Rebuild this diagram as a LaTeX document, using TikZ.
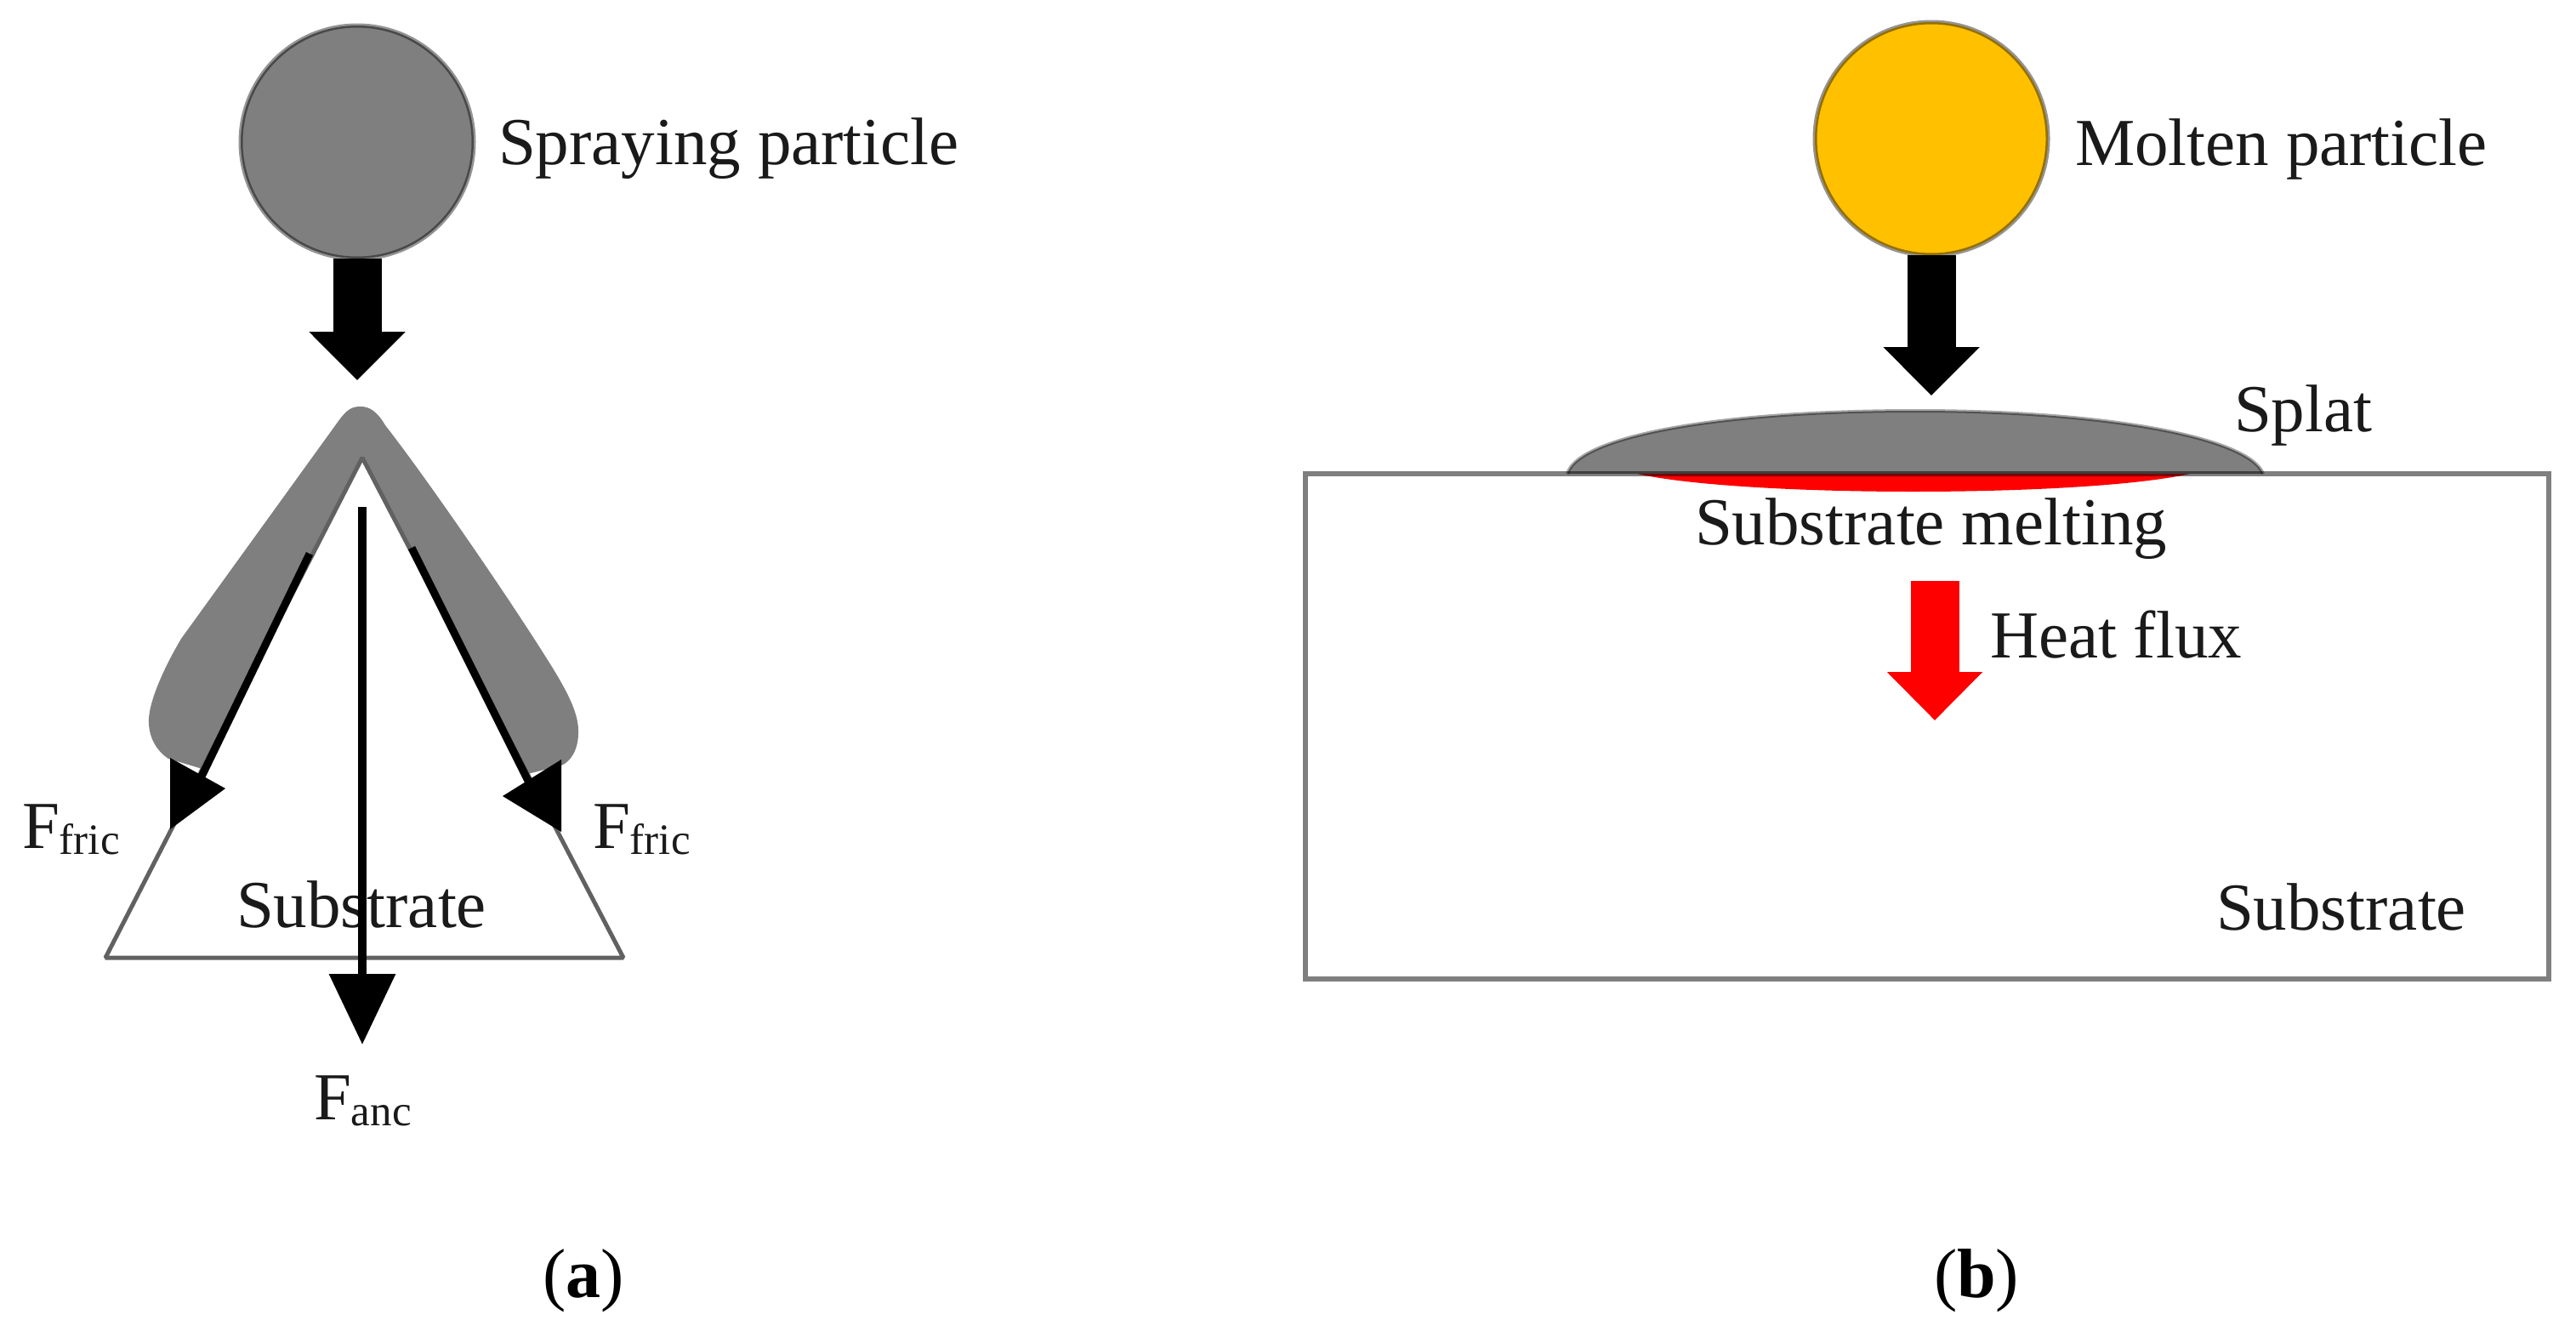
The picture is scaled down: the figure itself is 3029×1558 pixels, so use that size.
\documentclass[tikz,border=0pt]{standalone}
\usepackage{fontspec}
\setmainfont{Liberation Serif}
\usetikzlibrary{arrows.meta}
\definecolor{partgray}{HTML}{7F7F7F}
\definecolor{gold}{HTML}{FFC000}
\definecolor{txt}{HTML}{1A1A1A}
\tikzset{
  lab/.style={anchor=base west,inner sep=0pt,outer sep=0pt,text=txt,font=\fontsize{79}{95}\selectfont},
  figcap/.style={anchor=base west,inner sep=0pt,outer sep=0pt,text=black,font=\fontsize{82}{98}\selectfont},
  particle/.style={circle,inner sep=0pt,outer sep=0pt,minimum size=274pt},
  rim/.style={draw=black,draw opacity=.42,line width=5pt},
  blockarrow/.style={line width=57pt,-{Triangle[length=57pt,width=110pt]}},
  heatarrow/.style={draw=red,color=red,line width=57pt,-{Triangle[length=57pt,width=109pt]}},
  thinarrow/.style={line width=10pt,-{Triangle[length=83pt,width=76pt]}},
  fricshaft/.style={line width=9pt,line cap=butt},
}
\newcommand{\subtxt}[1]{\raisebox{-7pt}{\fontsize{51}{60}\selectfont #1}}
\begin{document}
\begin{tikzpicture}[x=1pt,y=-1pt]
\useasboundingbox (0,0) rectangle (3029,1558);
\fill[white] (0,0) rectangle (3029,1558);

% ---------- (a) ----------
\coordinate (apex) at (426,538);
\coordinate (tl) at (124,1126);
\coordinate (tr) at (733,1126);
% deformed particle
\fill[partgray] (426,542) -- (238,904) -- (198,892)
  .. controls (183,882) and (174,865) .. (175,845)
  .. controls (176,825) and (190,790) .. (213,751)
  -- (398,495)
  .. controls (408,481) and (414,478) .. (424,478)
  .. controls (434,478) and (443,483) .. (453,500)
  .. controls (500,560) and (600,705) .. (649,784)
  .. controls (668,815) and (681,840) .. (680,862)
  .. controls (680,880) and (672,895) .. (660,900)
  -- (620,910) -- cycle;
\draw[draw=black!62,line width=5pt,line join=bevel] (apex) -- (tl) -- (tr) -- cycle;
% friction arrows
\coordinate (fl0) at (364,651);
\coordinate (fl1) at (236,915);
\coordinate (fr0) at (484,644);
\coordinate (fr1) at (622,920);
\draw[fricshaft] (fl0) -- (fl1);
\draw[fricshaft] (fr0) -- (fr1);
\fill (200,891) -- (265,927) -- (200,975) -- cycle;
\fill (660,893) -- (591,936) -- (660,978) -- cycle;

\node[lab] (subA) at (278,1090) {Substrate};
\coordinate (ancstart) at (426,596);
\coordinate (anctip) at (426,1228);
\draw[thinarrow] (ancstart) -- (anctip);

\node[particle,fill=partgray,rim] (pA) at (420,167) {};
\coordinate (tipA) at (420,447);
\draw[blockarrow] (pA.south) -- (tipA);
\node[lab] (spray) at (586,193) {Spraying particle};

\node[lab] (ffl) at (26,997) {F\subtxt{fric}};
\node[lab] (ffr) at (697,997) {F\subtxt{fric}};
\node[lab] (fan) at (369,1316) {F\subtxt{anc}};

\node[figcap] (capa) at (638,1525) {(\textbf{a})};

% ---------- (b) ----------
\fill[red] (1925,557) .. controls (2050,585) and (2450,585) .. (2575,557) -- cycle;
\fill[partgray] (1843,557)
  .. controls (1855,515) and (2010,483) .. (2253,483)
  .. controls (2480,483) and (2645,515) .. (2661,557) -- cycle;
\draw[draw=black,draw opacity=.35,line width=4pt] (1843,557)
  .. controls (1855,515) and (2010,483) .. (2253,483)
  .. controls (2480,483) and (2645,515) .. (2661,557);
\draw[draw=black,draw opacity=.5,line width=6pt] (1535,557) rectangle (2997,1151);

\node[particle,fill=gold,rim] (pB) at (2271,163) {};
\coordinate (tipB) at (2271,465);
\draw[blockarrow] (pB.south) -- (tipB);
\node[lab] (molten) at (2440,194) {Molten particle};
\node[lab] (splat) at (2627,507) {Splat};
\node[lab] (melt) at (1993,640) {Substrate melting};
\coordinate (hf0) at (2275,683);
\coordinate (hf1) at (2275,847);
\draw[heatarrow] (hf0) -- (hf1);
\node[lab] (heat) at (2340,773) {Heat flux};
\node[lab] (subB) at (2606,1093) {Substrate};
\node[figcap] (capb) at (2274,1525) {(\textbf{b})};
\end{tikzpicture}
\end{document}
